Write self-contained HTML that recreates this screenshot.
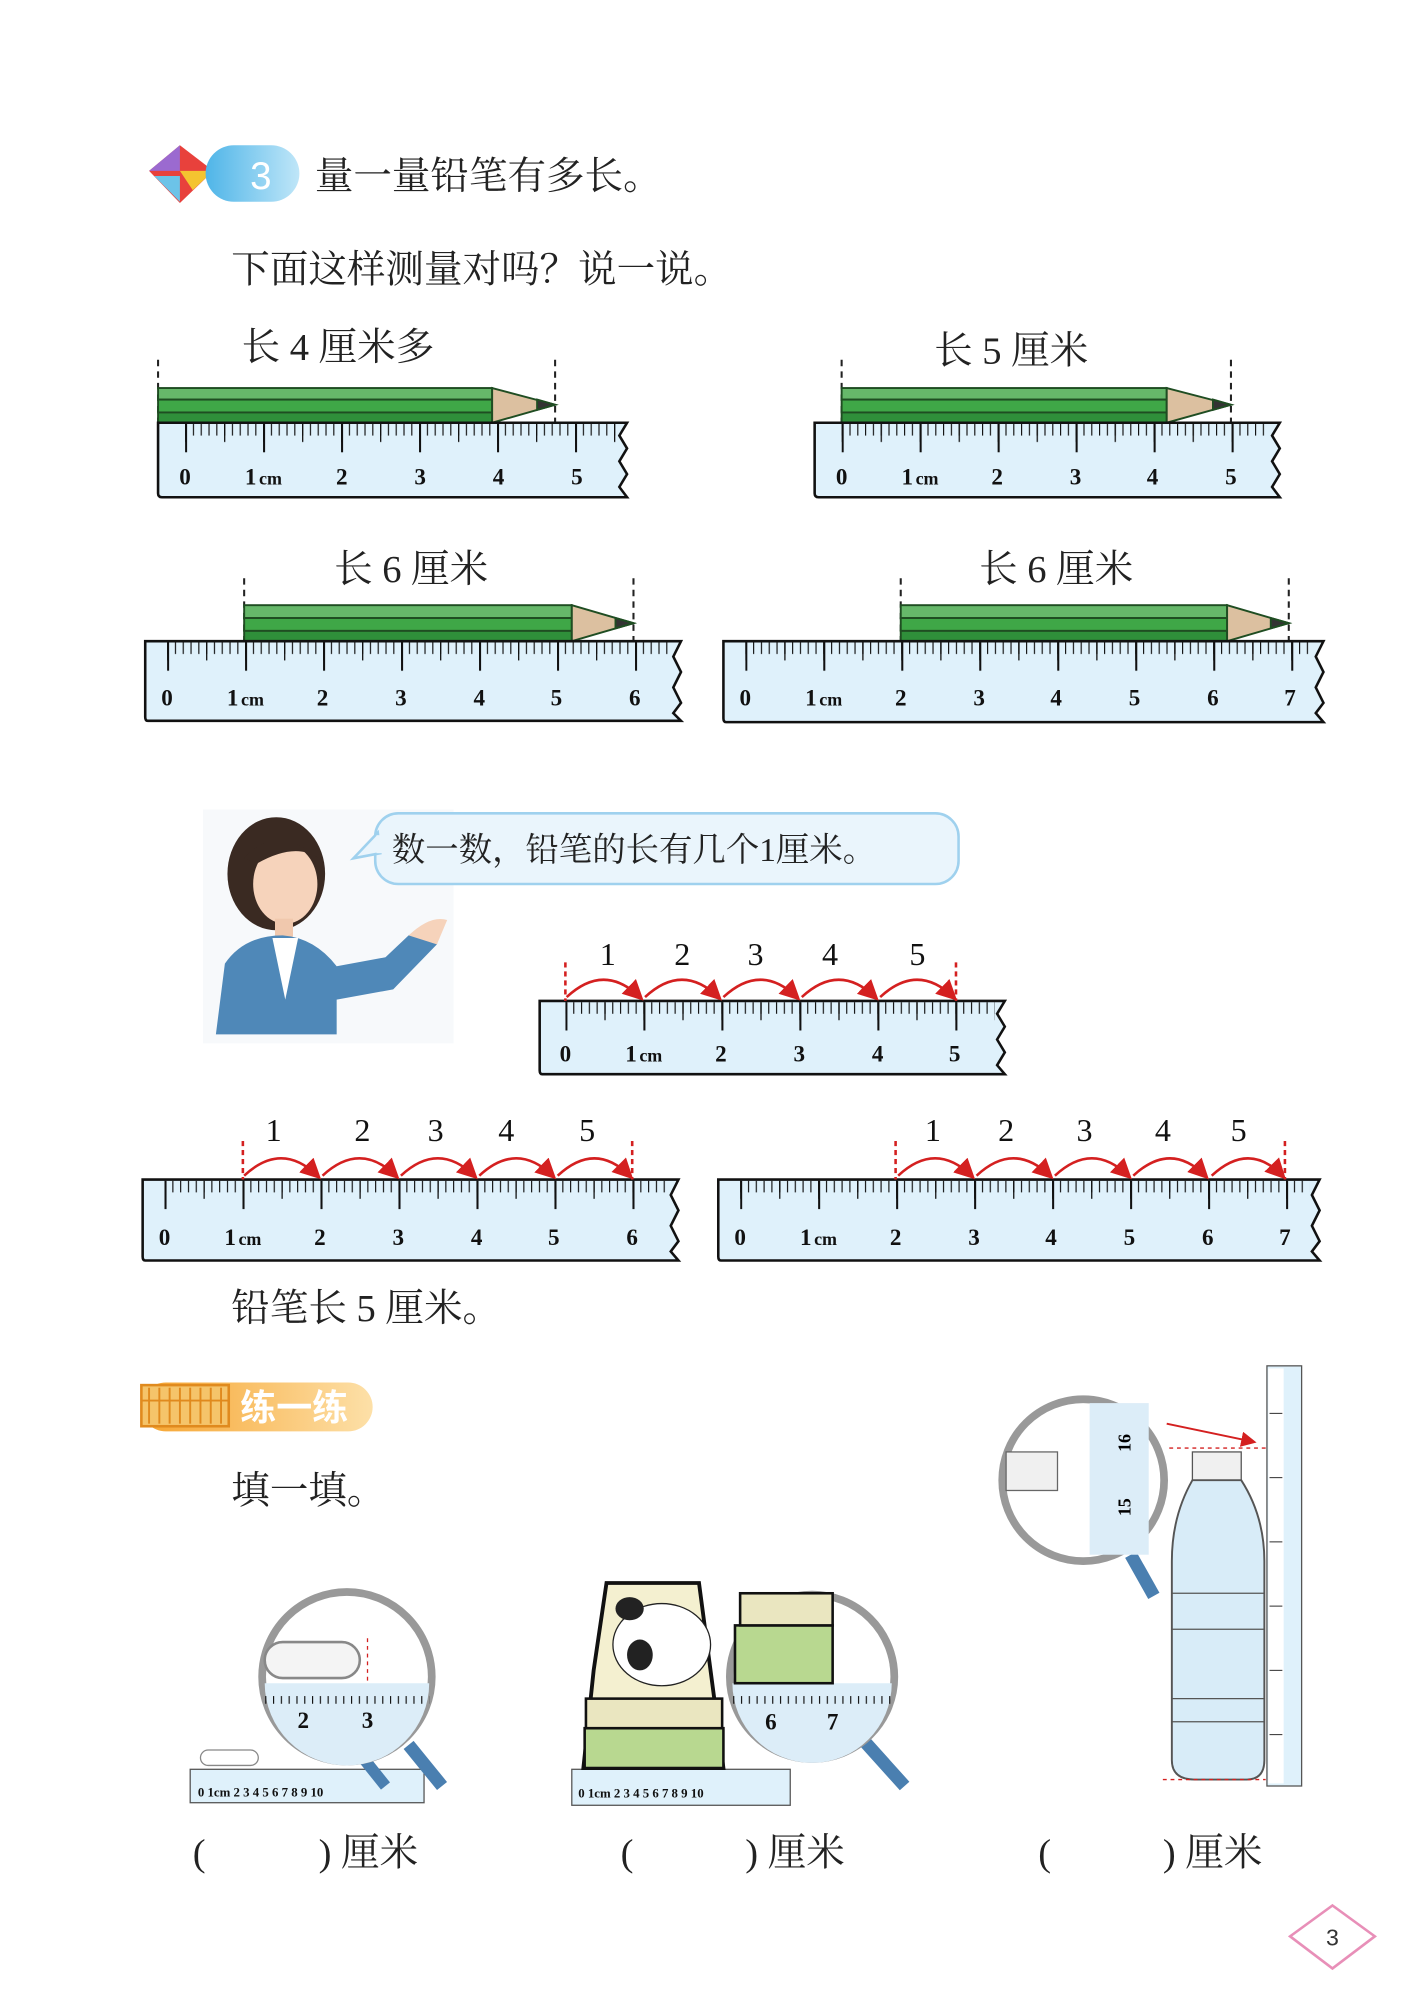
<!DOCTYPE html>
<html><head><meta charset="utf-8"><style>
html,body{margin:0;padding:0;background:#fff}
svg{display:block}
.k{font-family:"Liberation Serif","Noto Serif CJK SC",serif;fill:#222}
.n{font-family:"Liberation Serif",serif;font-weight:bold;fill:#111;font-size:18px;text-anchor:middle}
.c{font-family:"Liberation Serif",serif;font-weight:bold;fill:#111;font-size:14px}
.a{font-family:"Liberation Serif",serif;fill:#111;font-size:25px;text-anchor:middle}
</style></head><body>
<svg width="1425" height="2016" viewBox="0 0 1109 1569" xmlns="http://www.w3.org/2000/svg">
<defs>
<pattern id="mm" width="6.07" height="40" patternUnits="userSpaceOnUse"><rect x="0" y="0" width="0.9" height="10" fill="#111"/></pattern>
<pattern id="hf" width="30.35" height="40" patternUnits="userSpaceOnUse"><rect x="0" y="0" width="1" height="15" fill="#111"/></pattern>
<pattern id="cm" width="60.7" height="40" patternUnits="userSpaceOnUse"><rect x="0" y="0" width="1.6" height="23" fill="#111"/></pattern>
<marker id="ar" markerWidth="8" markerHeight="8" refX="6" refY="4" orient="auto"><path d="M0,0 L8,4 L0,8 z" fill="#d42020"/></marker>
<linearGradient id="bl" x1="0" x2="1"><stop offset="0" stop-color="#4fb5e8"/><stop offset="1" stop-color="#bfe6f8"/></linearGradient>
<linearGradient id="or" x1="0" x2="1"><stop offset="0" stop-color="#f6a531"/><stop offset="1" stop-color="#fde0a8"/></linearGradient>
</defs>

<polygon points="116,133 140,113 166,133 140,158" fill="#e8413c"/>
<polygon points="116,133 140,113 140,133" fill="#9b6ad0"/>
<polygon points="140,133 166,133 150,148" fill="#f4c430"/>
<polygon points="120,137 140,137 140,157" fill="#6cc3e8"/>
<rect x="160" y="113" width="73" height="44" rx="22" fill="url(#bl)"/>
<text x="203" y="147" font-family="Liberation Sans,sans-serif" font-size="30" fill="#fff" text-anchor="middle">3</text>
<text x="245" y="147" class="k" font-size="30">量一量铅笔有多长。</text>
<text x="180" y="220" class="k" font-size="30">下面这样测量对吗？说一说。</text>

<text x="188" y="280" class="k" font-size="30">长 4 厘米多</text>
<text x="727" y="283" class="k" font-size="30">长 5 厘米</text>
<text x="260" y="453" class="k" font-size="30">长 6 厘米</text>
<text x="762" y="453" class="k" font-size="30">长 6 厘米</text>

<g stroke="#222" stroke-width="1.6" stroke-dasharray="5,4">
<line x1="123" y1="280" x2="123" y2="329"/><line x1="432" y1="280" x2="432" y2="329"/>
<line x1="655" y1="280" x2="655" y2="329"/><line x1="958" y1="280" x2="958" y2="329"/>
<line x1="190" y1="450" x2="190" y2="499"/><line x1="493" y1="450" x2="493" y2="499"/>
<line x1="701" y1="450" x2="701" y2="499"/><line x1="1003" y1="450" x2="1003" y2="499"/>
</g>

<g stroke="#1f4d22" stroke-width="1.5">
<g transform="translate(123,302)"><rect width="260" height="9" fill="#66b86a"/><rect y="9" width="260" height="10" fill="#3fa747"/><rect y="19" width="260" height="8" fill="#2f8f3a"/><polygon points="260,0 309,13 260,27" fill="#dcc0a0"/><polygon points="295,9 309,13 295,17" fill="#333"/></g>
<g transform="translate(655,302)"><rect width="253" height="9" fill="#66b86a"/><rect y="9" width="253" height="10" fill="#3fa747"/><rect y="19" width="253" height="8" fill="#2f8f3a"/><polygon points="253,0 303,13 253,27" fill="#dcc0a0"/><polygon points="289,9 303,13 289,17" fill="#333"/></g>
<g transform="translate(190,471)"><rect width="255" height="10" fill="#66b86a"/><rect y="10" width="255" height="10" fill="#3fa747"/><rect y="20" width="255" height="8" fill="#2f8f3a"/><polygon points="255,0 303,14 255,28" fill="#dcc0a0"/><polygon points="289,10 303,14 289,18" fill="#333"/></g>
<g transform="translate(701,471)"><rect width="254" height="10" fill="#66b86a"/><rect y="10" width="254" height="10" fill="#3fa747"/><rect y="20" width="254" height="8" fill="#2f8f3a"/><polygon points="254,0 302,14 254,28" fill="#dcc0a0"/><polygon points="288,10 302,14 288,18" fill="#333"/></g>
</g>

<g transform="translate(144,329)">
<path d="M-18,0 H344 L338,10 L344,20 L338,30 L344,40 L338,50 L344,58 H-18 Q-21,58 -21,55 V0 Z" fill="#dff1fb" stroke="#111" stroke-width="2"/>
<rect x="0" y="1" width="336" height="25" fill="url(#mm)"/><rect x="0" y="1" width="336" height="25" fill="url(#hf)"/><rect x="0" y="1" width="310" height="25" fill="url(#cm)"/>
<text class="n" x="0" y="48">0</text><text class="n" x="61" y="48">1<tspan class="c" dx="2">cm</tspan></text><text class="n" x="122" y="48">2</text><text class="n" x="183" y="48">3</text><text class="n" x="244" y="48">4</text><text class="n" x="305" y="48">5</text>
</g>
<g transform="translate(655,329)">
<path d="M-18,0 H341 L335,10 L341,20 L335,30 L341,40 L335,50 L341,58 H-18 Q-21,58 -21,55 V0 Z" fill="#dff1fb" stroke="#111" stroke-width="2"/>
<rect x="0" y="1" width="333" height="25" fill="url(#mm)"/><rect x="0" y="1" width="333" height="25" fill="url(#hf)"/><rect x="0" y="1" width="310" height="25" fill="url(#cm)"/>
<text class="n" x="0" y="48">0</text><text class="n" x="61" y="48">1<tspan class="c" dx="2">cm</tspan></text><text class="n" x="121" y="48">2</text><text class="n" x="182" y="48">3</text><text class="n" x="242" y="48">4</text><text class="n" x="303" y="48">5</text>
</g>
<g transform="translate(130,499)">
<path d="M-15,0 H400 L394,12 L400,24 L394,36 L400,48 L394,56 L400,62 H-15 Q-17,62 -17,59 V0 Z" fill="#dff1fb" stroke="#111" stroke-width="2"/>
<rect x="0" y="1" width="392" height="25" fill="url(#mm)"/><rect x="0" y="1" width="392" height="25" fill="url(#hf)"/><rect x="0" y="1" width="370" height="25" fill="url(#cm)"/>
<text class="n" x="0" y="50">0</text><text class="n" x="61" y="50">1<tspan class="c" dx="2">cm</tspan></text><text class="n" x="121" y="50">2</text><text class="n" x="182" y="50">3</text><text class="n" x="243" y="50">4</text><text class="n" x="303" y="50">5</text><text class="n" x="364" y="50">6</text>
</g>
<g transform="translate(580,499)">
<path d="M-15,0 H450 L444,12 L450,24 L444,36 L450,48 L444,56 L450,63 H-15 Q-17,63 -17,60 V0 Z" fill="#dff1fb" stroke="#111" stroke-width="2"/>
<rect x="0" y="1" width="442" height="25" fill="url(#mm)"/><rect x="0" y="1" width="442" height="25" fill="url(#hf)"/><rect x="0" y="1" width="430" height="25" fill="url(#cm)"/>
<text class="n" x="0" y="50">0</text><text class="n" x="61" y="50">1<tspan class="c" dx="2">cm</tspan></text><text class="n" x="121" y="50">2</text><text class="n" x="182" y="50">3</text><text class="n" x="242" y="50">4</text><text class="n" x="303" y="50">5</text><text class="n" x="364" y="50">6</text><text class="n" x="424" y="50">7</text>
</g>

<g>
<rect x="158" y="630" width="195" height="182" fill="#f7f9fb"/>
<ellipse cx="215" cy="680" rx="38" ry="44" fill="#3a2a22"/>
<ellipse cx="222" cy="688" rx="25" ry="31" fill="#f6d3bb"/>
<path d="M190,668 Q215,640 248,668 Q230,655 200,672 Z" fill="#3a2a22"/>
<rect x="214" y="715" width="14" height="14" fill="#f0c8ad"/>
<path d="M168,805 L175,750 Q190,728 220,728 Q245,730 262,752 L300,745 L318,728 L345,718 L340,735 L306,770 L262,778 L262,805 Z" fill="#4f88b8"/>
<path d="M212,730 L222,778 L232,730 Z" fill="#fff"/>
<path d="M318,728 Q335,712 348,716 L340,735 Z" fill="#f6d3bb"/>
</g>
<rect x="292" y="633" width="454" height="55" rx="18" fill="#eaf5fc" stroke="#9fd1ee" stroke-width="2"/>
<polygon points="294,648 275,668 296,664" fill="#eaf5fc" stroke="#9fd1ee" stroke-width="2"/>
<rect x="293" y="650" width="6" height="14" fill="#eaf5fc"/>
<text x="305" y="670" class="k" font-size="26">数一数，铅笔的长有几个1厘米。</text>

<g transform="translate(440,779)">
<path d="M-18,0 H342 L336,10 L342,20 L336,30 L342,40 L336,50 L342,57 H-18 Q-20,57 -20,54 V0 Z" fill="#dff1fb" stroke="#111" stroke-width="2"/>
<rect x="0" y="1" width="334" height="25" fill="url(#mm)"/><rect x="0" y="1" width="334" height="25" fill="url(#hf)"/><rect x="0" y="1" width="310" height="25" fill="url(#cm)"/>
<text class="n" x="0" y="47">0</text><text class="n" x="61" y="47">1<tspan class="c" dx="2">cm</tspan></text><text class="n" x="121" y="47">2</text><text class="n" x="182" y="47">3</text><text class="n" x="243" y="47">4</text><text class="n" x="303" y="47">5</text>
<g fill="none" stroke="#d42020" stroke-width="2"><line x1="0" y1="-30" x2="0" y2="0" stroke-dasharray="4,3"/><line x1="304" y1="-30" x2="304" y2="0" stroke-dasharray="4,3"/>
<path d="M1,-3 Q30,-30 58,-3" marker-end="url(#ar)"/><path d="M62,-3 Q91,-30 119,-3" marker-end="url(#ar)"/><path d="M123,-3 Q152,-30 180,-3" marker-end="url(#ar)"/><path d="M184,-3 Q213,-30 241,-3" marker-end="url(#ar)"/><path d="M245,-3 Q274,-30 302,-3" marker-end="url(#ar)"/></g>
<text class="a" x="33" y="-28">1</text><text class="a" x="91" y="-28">2</text><text class="a" x="148" y="-28">3</text><text class="a" x="206" y="-28">4</text><text class="a" x="274" y="-28">5</text>
</g>
<g transform="translate(128,918)">
<path d="M-15,0 H400 L394,12 L400,24 L394,36 L400,48 L394,56 L400,63 H-15 Q-17,63 -17,60 V0 Z" fill="#dff1fb" stroke="#111" stroke-width="2"/>
<rect x="0" y="1" width="392" height="25" fill="url(#mm)"/><rect x="0" y="1" width="392" height="25" fill="url(#hf)"/><rect x="0" y="1" width="370" height="25" fill="url(#cm)"/>
<text class="n" x="0" y="51">0</text><text class="n" x="61" y="51">1<tspan class="c" dx="2">cm</tspan></text><text class="n" x="121" y="51">2</text><text class="n" x="182" y="51">3</text><text class="n" x="243" y="51">4</text><text class="n" x="303" y="51">5</text><text class="n" x="364" y="51">6</text>
<g fill="none" stroke="#d42020" stroke-width="2"><line x1="61" y1="-30" x2="61" y2="0" stroke-dasharray="4,3"/><line x1="364" y1="-30" x2="364" y2="0" stroke-dasharray="4,3"/>
<path d="M62,-3 Q91,-30 119,-3" marker-end="url(#ar)"/><path d="M123,-3 Q152,-30 180,-3" marker-end="url(#ar)"/><path d="M184,-3 Q213,-30 241,-3" marker-end="url(#ar)"/><path d="M245,-3 Q274,-30 302,-3" marker-end="url(#ar)"/><path d="M306,-3 Q335,-30 362,-3" marker-end="url(#ar)"/></g>
<text class="a" x="85" y="-30">1</text><text class="a" x="154" y="-30">2</text><text class="a" x="211" y="-30">3</text><text class="a" x="266" y="-30">4</text><text class="a" x="329" y="-30">5</text>
</g>
<g transform="translate(576,918)">
<path d="M-15,0 H451 L445,12 L451,24 L445,36 L451,48 L445,56 L451,63 H-15 Q-17,63 -17,60 V0 Z" fill="#dff1fb" stroke="#111" stroke-width="2"/>
<rect x="0" y="1" width="443" height="25" fill="url(#mm)"/><rect x="0" y="1" width="443" height="25" fill="url(#hf)"/><rect x="0" y="1" width="430" height="25" fill="url(#cm)"/>
<text class="n" x="0" y="51">0</text><text class="n" x="61" y="51">1<tspan class="c" dx="2">cm</tspan></text><text class="n" x="121" y="51">2</text><text class="n" x="182" y="51">3</text><text class="n" x="242" y="51">4</text><text class="n" x="303" y="51">5</text><text class="n" x="364" y="51">6</text><text class="n" x="424" y="51">7</text>
<g fill="none" stroke="#d42020" stroke-width="2"><line x1="121" y1="-30" x2="121" y2="0" stroke-dasharray="4,3"/><line x1="424" y1="-30" x2="424" y2="0" stroke-dasharray="4,3"/>
<path d="M123,-3 Q152,-30 180,-3" marker-end="url(#ar)"/><path d="M184,-3 Q213,-30 241,-3" marker-end="url(#ar)"/><path d="M245,-3 Q274,-30 302,-3" marker-end="url(#ar)"/><path d="M306,-3 Q335,-30 362,-3" marker-end="url(#ar)"/><path d="M367,-3 Q396,-30 422,-3" marker-end="url(#ar)"/></g>
<text class="a" x="150" y="-30">1</text><text class="a" x="207" y="-30">2</text><text class="a" x="268" y="-30">3</text><text class="a" x="329" y="-30">4</text><text class="a" x="388" y="-30">5</text>
</g>

<text x="180" y="1028" class="k" font-size="30">铅笔长 5 厘米。</text>

<rect x="110" y="1076" width="180" height="38" rx="19" fill="url(#or)"/>
<rect x="110" y="1078" width="68" height="32" fill="#f5c46a" stroke="#e08a1e" stroke-width="2"/>
<g stroke="#e08a1e" stroke-width="1.5"><line x1="116" y1="1080" x2="116" y2="1108"/><line x1="124" y1="1080" x2="124" y2="1108"/><line x1="132" y1="1080" x2="132" y2="1108"/><line x1="140" y1="1080" x2="140" y2="1108"/><line x1="148" y1="1080" x2="148" y2="1108"/><line x1="156" y1="1080" x2="156" y2="1108"/><line x1="164" y1="1080" x2="164" y2="1108"/><line x1="172" y1="1080" x2="172" y2="1108"/><line x1="110" y1="1090" x2="178" y2="1090"/></g>
<text x="187" y="1105" font-family="Liberation Sans,'Noto Sans CJK SC',sans-serif" font-weight="bold" font-size="28" fill="#fff">练一练</text>
<text x="180" y="1170" class="k" font-size="30">填一填。</text>

<g>
<rect x="148" y="1377" width="182" height="26" fill="#dff1fb" stroke="#555"/>
<rect x="158" y="1378" width="165" height="10" fill="url(#mm)"/>
<text x="154" y="1398" font-family="Liberation Serif,serif" font-size="10" font-weight="bold" fill="#111">0  1cm 2  3  4  5  6  7  8  9  10</text>
<rect x="156" y="1362" width="45" height="12" rx="6" fill="#fff" stroke="#888"/>
<line x1="268" y1="1350" x2="300" y2="1390" stroke="#4a7fb0" stroke-width="9"/>
<line x1="318" y1="1358" x2="344" y2="1390" stroke="#4a7fb0" stroke-width="10"/>
<circle cx="270" cy="1305" r="66" fill="#fff" stroke="#999" stroke-width="6"/>
<path d="M206,1310 H334 A64,64 0 0 1 206,1310 Z" fill="#dcedf8"/>
<rect x="206" y="1310" width="128" height="16" fill="url(#mm)"/>
<text x="236" y="1345" class="n">2</text><text x="286" y="1345" class="n">3</text>
<rect x="206" y="1278" width="74" height="28" rx="14" fill="#f4f4f4" stroke="#888" stroke-width="2"/>
<line x1="286" y1="1275" x2="286" y2="1310" stroke="#d42020" stroke-dasharray="3,3"/>
</g>
<g>
<rect x="445" y="1377" width="170" height="28" fill="#dff1fb" stroke="#555"/>
<rect x="450" y="1378" width="165" height="12" fill="url(#mm)"/>
<text x="450" y="1399" font-family="Liberation Serif,serif" font-size="10" font-weight="bold" fill="#111">0  1cm 2  3  4  5  6  7  8  9  10</text>
<polygon points="472,1232 544,1232 563,1376 454,1376 462,1300" fill="#f4f0d0" stroke="#111" stroke-width="3"/>
<rect x="455" y="1345" width="108" height="31" fill="#b8d890" stroke="#111" stroke-width="2"/>
<rect x="456" y="1322" width="106" height="23" fill="#eae6c0" stroke="#111" stroke-width="2"/>
<ellipse cx="515" cy="1280" rx="38" ry="32" fill="#fff" stroke="#222"/>
<ellipse cx="498" cy="1288" rx="10" ry="12" fill="#222"/><ellipse cx="490" cy="1252" rx="11" ry="9" fill="#222"/>
<line x1="668" y1="1350" x2="704" y2="1390" stroke="#4a7fb0" stroke-width="10"/>
<circle cx="632" cy="1305" r="64" fill="#fff" stroke="#999" stroke-width="6"/>
<path d="M570,1310 H694 A62,62 0 0 1 570,1310 Z" fill="#dcedf8"/>
<rect x="570" y="1310" width="124" height="16" fill="url(#mm)"/>
<rect x="572" y="1265" width="76" height="45" fill="#b8d890" stroke="#111" stroke-width="2"/>
<rect x="576" y="1240" width="72" height="25" fill="#eae6c0" stroke="#111" stroke-width="2"/>
<text x="600" y="1346" class="n">6</text><text x="648" y="1346" class="n">7</text>
</g>
<g>
<rect x="986" y="1063" width="27" height="327" fill="#dff1fb" stroke="#555"/>
<rect x="987" y="1065" width="12" height="323" fill="#fff"/>
<g stroke="#333" stroke-width="0.8"><line x1="988" y1="1100" x2="998" y2="1100"/><line x1="988" y1="1150" x2="998" y2="1150"/><line x1="988" y1="1200" x2="998" y2="1200"/><line x1="988" y1="1250" x2="998" y2="1250"/><line x1="988" y1="1300" x2="998" y2="1300"/><line x1="988" y1="1350" x2="998" y2="1350"/></g>
<rect x="928" y="1130" width="38" height="22" fill="#f0f0f0" stroke="#555"/>
<path d="M928,1152 Q912,1180 912,1215 V1370 Q912,1385 930,1385 H970 Q984,1385 984,1370 V1215 Q984,1180 966,1152 Z" fill="#d8ecf8" stroke="#555" stroke-width="1.5"/>
<g stroke="#555"><line x1="912" y1="1240" x2="984" y2="1240"/><line x1="912" y1="1268" x2="984" y2="1268"/><line x1="912" y1="1322" x2="984" y2="1322"/><line x1="912" y1="1340" x2="984" y2="1340"/></g>
<line x1="905" y1="1385" x2="985" y2="1385" stroke="#d42020" stroke-dasharray="3,3"/>
<line x1="910" y1="1127" x2="985" y2="1127" stroke="#d42020" stroke-dasharray="3,3"/>
<line x1="908" y1="1108" x2="975" y2="1122" stroke="#d42020" stroke-width="1.5" marker-end="url(#ar)"/>
<line x1="880" y1="1210" x2="898" y2="1242" stroke="#4a7fb0" stroke-width="10"/>
<circle cx="843" cy="1152" r="63" fill="#fff" stroke="#999" stroke-width="6"/>
<rect x="848" y="1092" width="46" height="118" fill="#dcedf8"/>
<rect x="783" y="1130" width="40" height="30" fill="#f0f0f0" stroke="#666"/>
<text x="880" y="1130" font-family="Liberation Serif,serif" font-weight="bold" font-size="14" transform="rotate(-90 880 1130)">16</text>
<text x="880" y="1180" font-family="Liberation Serif,serif" font-weight="bold" font-size="14" transform="rotate(-90 880 1180)">15</text>
</g>

<text x="150" y="1452" class="k" font-size="30">(</text><text x="248" y="1452" class="k" font-size="30">) 厘米</text>
<text x="483" y="1452" class="k" font-size="30">(</text><text x="580" y="1452" class="k" font-size="30">) 厘米</text>
<text x="808" y="1452" class="k" font-size="30">(</text><text x="905" y="1452" class="k" font-size="30">) 厘米</text>

<polygon points="1037,1483 1070,1507 1037,1532 1004,1507" fill="none" stroke="#e88fb8" stroke-width="2"/>
<text x="1037" y="1514" font-family="Liberation Sans,sans-serif" font-size="18" text-anchor="middle" fill="#333">3</text>
</svg>
</body></html>
